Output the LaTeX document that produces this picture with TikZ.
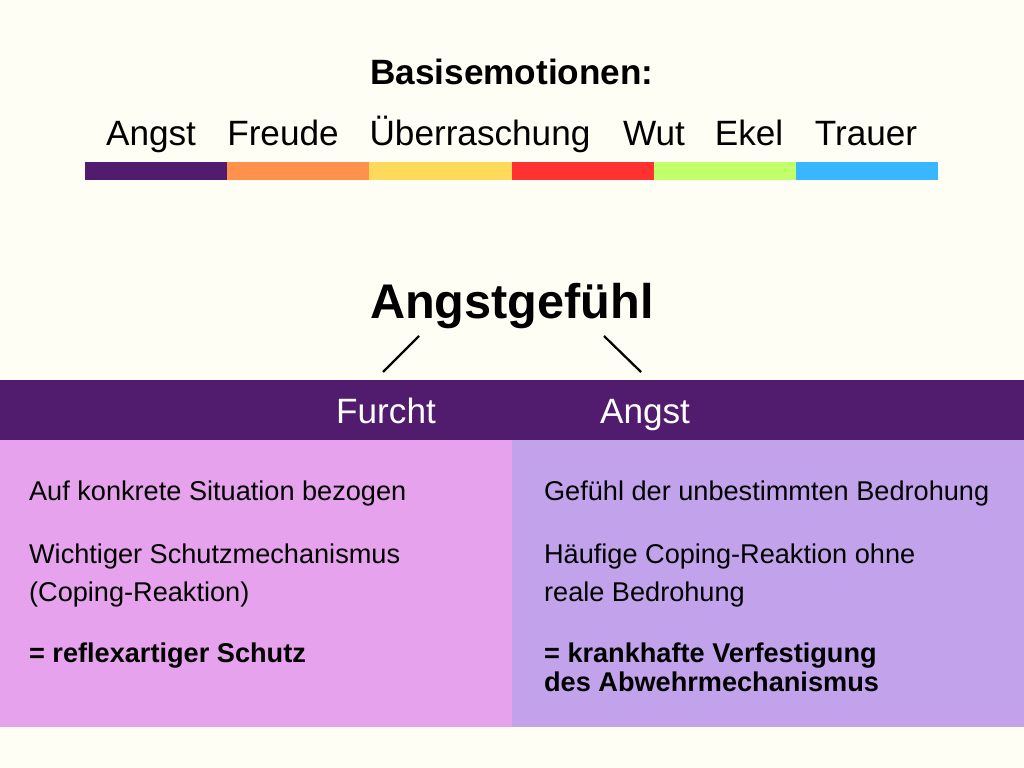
\documentclass[tikz,border=0pt]{standalone}
\usepackage{fontspec}
\setmainfont{Liberation Sans}
\definecolor{bgcream}{HTML}{FFFEF5}
\definecolor{cpurple}{HTML}{521C6E}
\definecolor{corange}{HTML}{FF914D}
\definecolor{cyellow}{HTML}{FFD95A}
\definecolor{cred}{HTML}{FF3131}
\definecolor{cgreen}{HTML}{C1FF6B}
\definecolor{cblue}{HTML}{38B6FF}
\definecolor{cpink}{HTML}{E6A2EC}
\definecolor{clilac}{HTML}{C3A2EC}
\tikzset{
  emolabel/.style={anchor=base, inner sep=0pt, font=\fontsize{25pt}{30pt}\selectfont},
  bodytext/.style={anchor=base west, inner sep=0pt, font=\fontsize{19.3pt}{23pt}\selectfont},
  boldtext/.style={bodytext, font=\fontsize{19.3pt}{23pt}\selectfont\bfseries},
}
\begin{document}
\begin{tikzpicture}[x=0.025cm, y=-0.025cm, line width=1.6pt]
  \fill[bgcream] (0,0) rectangle (1024,768);
  \useasboundingbox (0,0) rectangle (1024,768);
  % colour bar of the basic emotions
  \foreach \c [count=\i from 0] in {cpurple,corange,cyellow,cred,cgreen,cblue}
    \fill[\c] (85+142.2*\i, 162) rectangle (85+142.2*\i+142.2, 180);
  \node[emolabel, font=\fontsize{25pt}{30pt}\selectfont\bfseries] (title) at (512, 85) {Basisemotionen:};
  \foreach \x/\t [count=\i] in {151/Angst, 283/Freude, 480/Überraschung, 654/Wut, 749/Ekel, 866/Trauer}
    \node[emolabel] (emo\i) at (\x, 146) {\t};
  % heading and branches
  \node[anchor=base, inner sep=0pt, font=\fontsize{34.6pt}{40pt}\selectfont\bfseries] (gefuehl) at (512, 318) {Angstgefühl};
  \fill[cpurple] (0,380) rectangle (1024,440);
  \fill[cpink] (0,440) rectangle (512,727);
  \fill[clilac] (512,440) rectangle (1024,727);
  \node[emolabel, text=white] (furcht) at (386, 423) {Furcht};
  \node[emolabel, text=white] (angst) at (645, 423) {Angst};
  \coordinate (lt) at (419, 336);
  \coordinate (lb) at (383, 372);
  \coordinate (rt) at (604, 336);
  \coordinate (rb) at (641, 372);
  \draw (lt) -- (lb);
  \draw (rt) -- (rb);
  % left column
  \node[bodytext] (l1) at (28, 500) {Auf konkrete Situation bezogen};
  \node[bodytext] (l2) at (28, 563) {Wichtiger Schutzmechanismus};
  \node[bodytext] (l3) at (28, 601) {(Coping-Reaktion)};
  \node[boldtext] (l4) at (28, 662) {= reflexartiger Schutz};
  % right column
  \node[bodytext] (r1) at (543, 500) {Gefühl der unbestimmten Bedrohung};
  \node[bodytext] (r2) at (543, 563) {Häufige Coping-Reaktion ohne};
  \node[bodytext] (r3) at (543, 601) {reale Bedrohung};
  \node[boldtext] (r4) at (543, 662) {= krankhafte Verfestigung};
  \node[boldtext] (r5) at (543, 691) {des Abwehrmechanismus};
\end{tikzpicture}
\end{document}
